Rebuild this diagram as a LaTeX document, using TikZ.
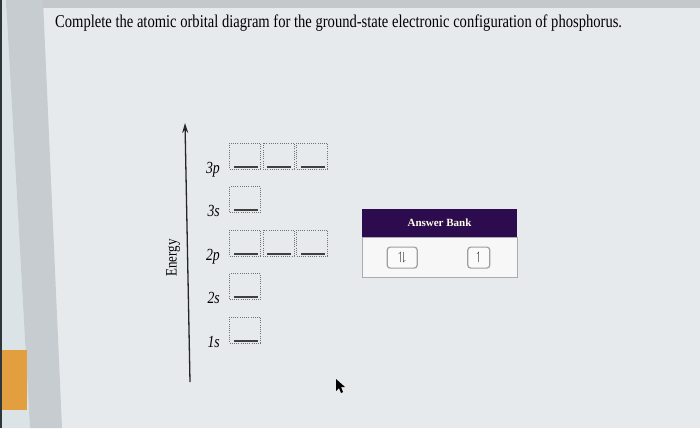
\documentclass[tikz,border=0pt]{standalone}
\usepackage{amsmath}
\usepackage{amssymb}
\usepackage{fontspec}
\usepackage{tikz}
\usetikzlibrary{positioning}
\usetikzlibrary{arrows.meta}

\newfontfamily\photofont[FakeStretch=0.81]{Liberation Serif}
\newfontfamily\bankfont{Liberation Serif}

\definecolor{panelbg}{HTML}{E7EAEC}
\definecolor{topstrip}{HTML}{C4C8CB}
\definecolor{sideband}{HTML}{C7CCD0}
\definecolor{leftstrip}{HTML}{DCE3E7}
\definecolor{darkedge}{HTML}{2E353B}
\definecolor{tabOrange}{HTML}{E39F3F}
\definecolor{bankpurple}{HTML}{2C0B4E}

\begin{document}
\begin{tikzpicture}[x=1pt, y=-1pt,
      orbital/.style ={draw=black!55, dash pattern=on 1pt off 1.2pt, line width=1pt, minimum width=31pt,
                       minimum height=26pt, inner sep=0pt,
                       path picture={\draw[solid, line width=2pt, black!75]
                         ([xshift=4pt,yshift=2.5pt]path picture bounding box.south west) --
                         ([xshift=-3pt,yshift=2.5pt]path picture bounding box.south east);}},
      level/.style ={anchor=base east, inner sep=0pt, font=\photofont\fontsize{17}{17}\selectfont\itshape},
      bankbox/.style ={rectangle, minimum width=155pt, inner sep=0pt},
      keybtn/.style ={draw=gray!75, line width=1.2pt, rounded corners=3pt, fill=gray!4,
                      minimum height=21pt, inner sep=0pt, font=\large},
      node distance=16.5pt and 1.5pt
    ]
    % screen background
    \useasboundingbox (0,0) rectangle (700,428);
    \fill[panelbg] (0,0) rectangle (700,428);
    \fill[topstrip] (0,0) rectangle (700,8);
    \fill[leftstrip] (0,0) -- (6,0) -- (30,428) -- (0,428) -- cycle;
    \fill[sideband] (6,0) -- (43,0) -- (62,428) -- (30,428) -- cycle;
    \fill[tabOrange] (2,350) rectangle (27,410);
    \fill[darkedge] (0,0) rectangle (2,428);

    \node [anchor=base west, inner sep=0pt, font=\photofont\fontsize{18}{18}\selectfont] (title) at (55,28)
      {Complete the atomic orbital diagram for the ground-state electronic configuration of phosphorus.};

    % energy axis
    \coordinate (axisbot) at (190,382);
    \coordinate (axistop) at (185,123);
    \draw [-{Stealth[length=10pt,width=6pt]}, line width=1.3pt, black!85] (axisbot) -- (axistop);
    \node [rotate=90, font=\photofont\fontsize{16}{16}\selectfont] (energy) at (173,258) {Energy};

    % orbital boxes
    \node [orbital] (box3pa) at (245,156) {};
    \node [orbital] (box3pb) [right=of box3pa] {};
    \node [orbital] (box3pc) [right=of box3pb] {};
    \node [orbital] (box3s) [below=of box3pa] {};
    \node [orbital] (box2pa) [below=of box3s] {};
    \node [orbital] (box2pb) [right=of box2pa] {};
    \node [orbital] (box2pc) [right=of box2pb] {};
    \node [orbital] (box2s) [below=of box2pa] {};
    \node [orbital] (box1s) [below=of box2s] {};

    \node [level] (lab3p) at ([xshift=-9pt,yshift=-3.5pt]box3pa.south west) {3p};
    \node [level] (lab3s) at ([xshift=-9pt,yshift=-3.5pt]box3s.south west) {3s};
    \node [level] (lab2p) at ([xshift=-9pt,yshift=-3.5pt]box2pa.south west) {2p};
    \node [level] (lab2s) at ([xshift=-9pt,yshift=-3.5pt]box2s.south west) {2s};
    \node [level] (lab1s) at ([xshift=-9pt,yshift=-3.5pt]box1s.south west) {1s};

    % answer bank
    \node [bankbox, fill=bankpurple, minimum height=28pt, text=white!90!yellow,
           font=\bankfont\fontsize{11}{11}\selectfont\bfseries] (bankhead) at (439.5,223) {Answer Bank};
    \node [bankbox, draw=gray!65, line width=0.8pt, fill=gray!6, minimum height=40pt] (bankbody) [below=0pt of bankhead] {};
    \node [keybtn, minimum width=30pt, anchor=west] (btnpair) at ([xshift=25pt]bankbody.west)
      {$\upharpoonleft\!\downharpoonright$};
    \node [keybtn, minimum width=22pt, anchor=east] (btnone) at ([xshift=-27pt]bankbody.east)
      {$\upharpoonleft$};

    % mouse pointer
    \fill[black] (336,379) -- (336,391) -- (339,388) -- (341,393) -- (343,392) -- (341,387) -- (345,387) -- cycle;
  \end{tikzpicture}
\end{document}
